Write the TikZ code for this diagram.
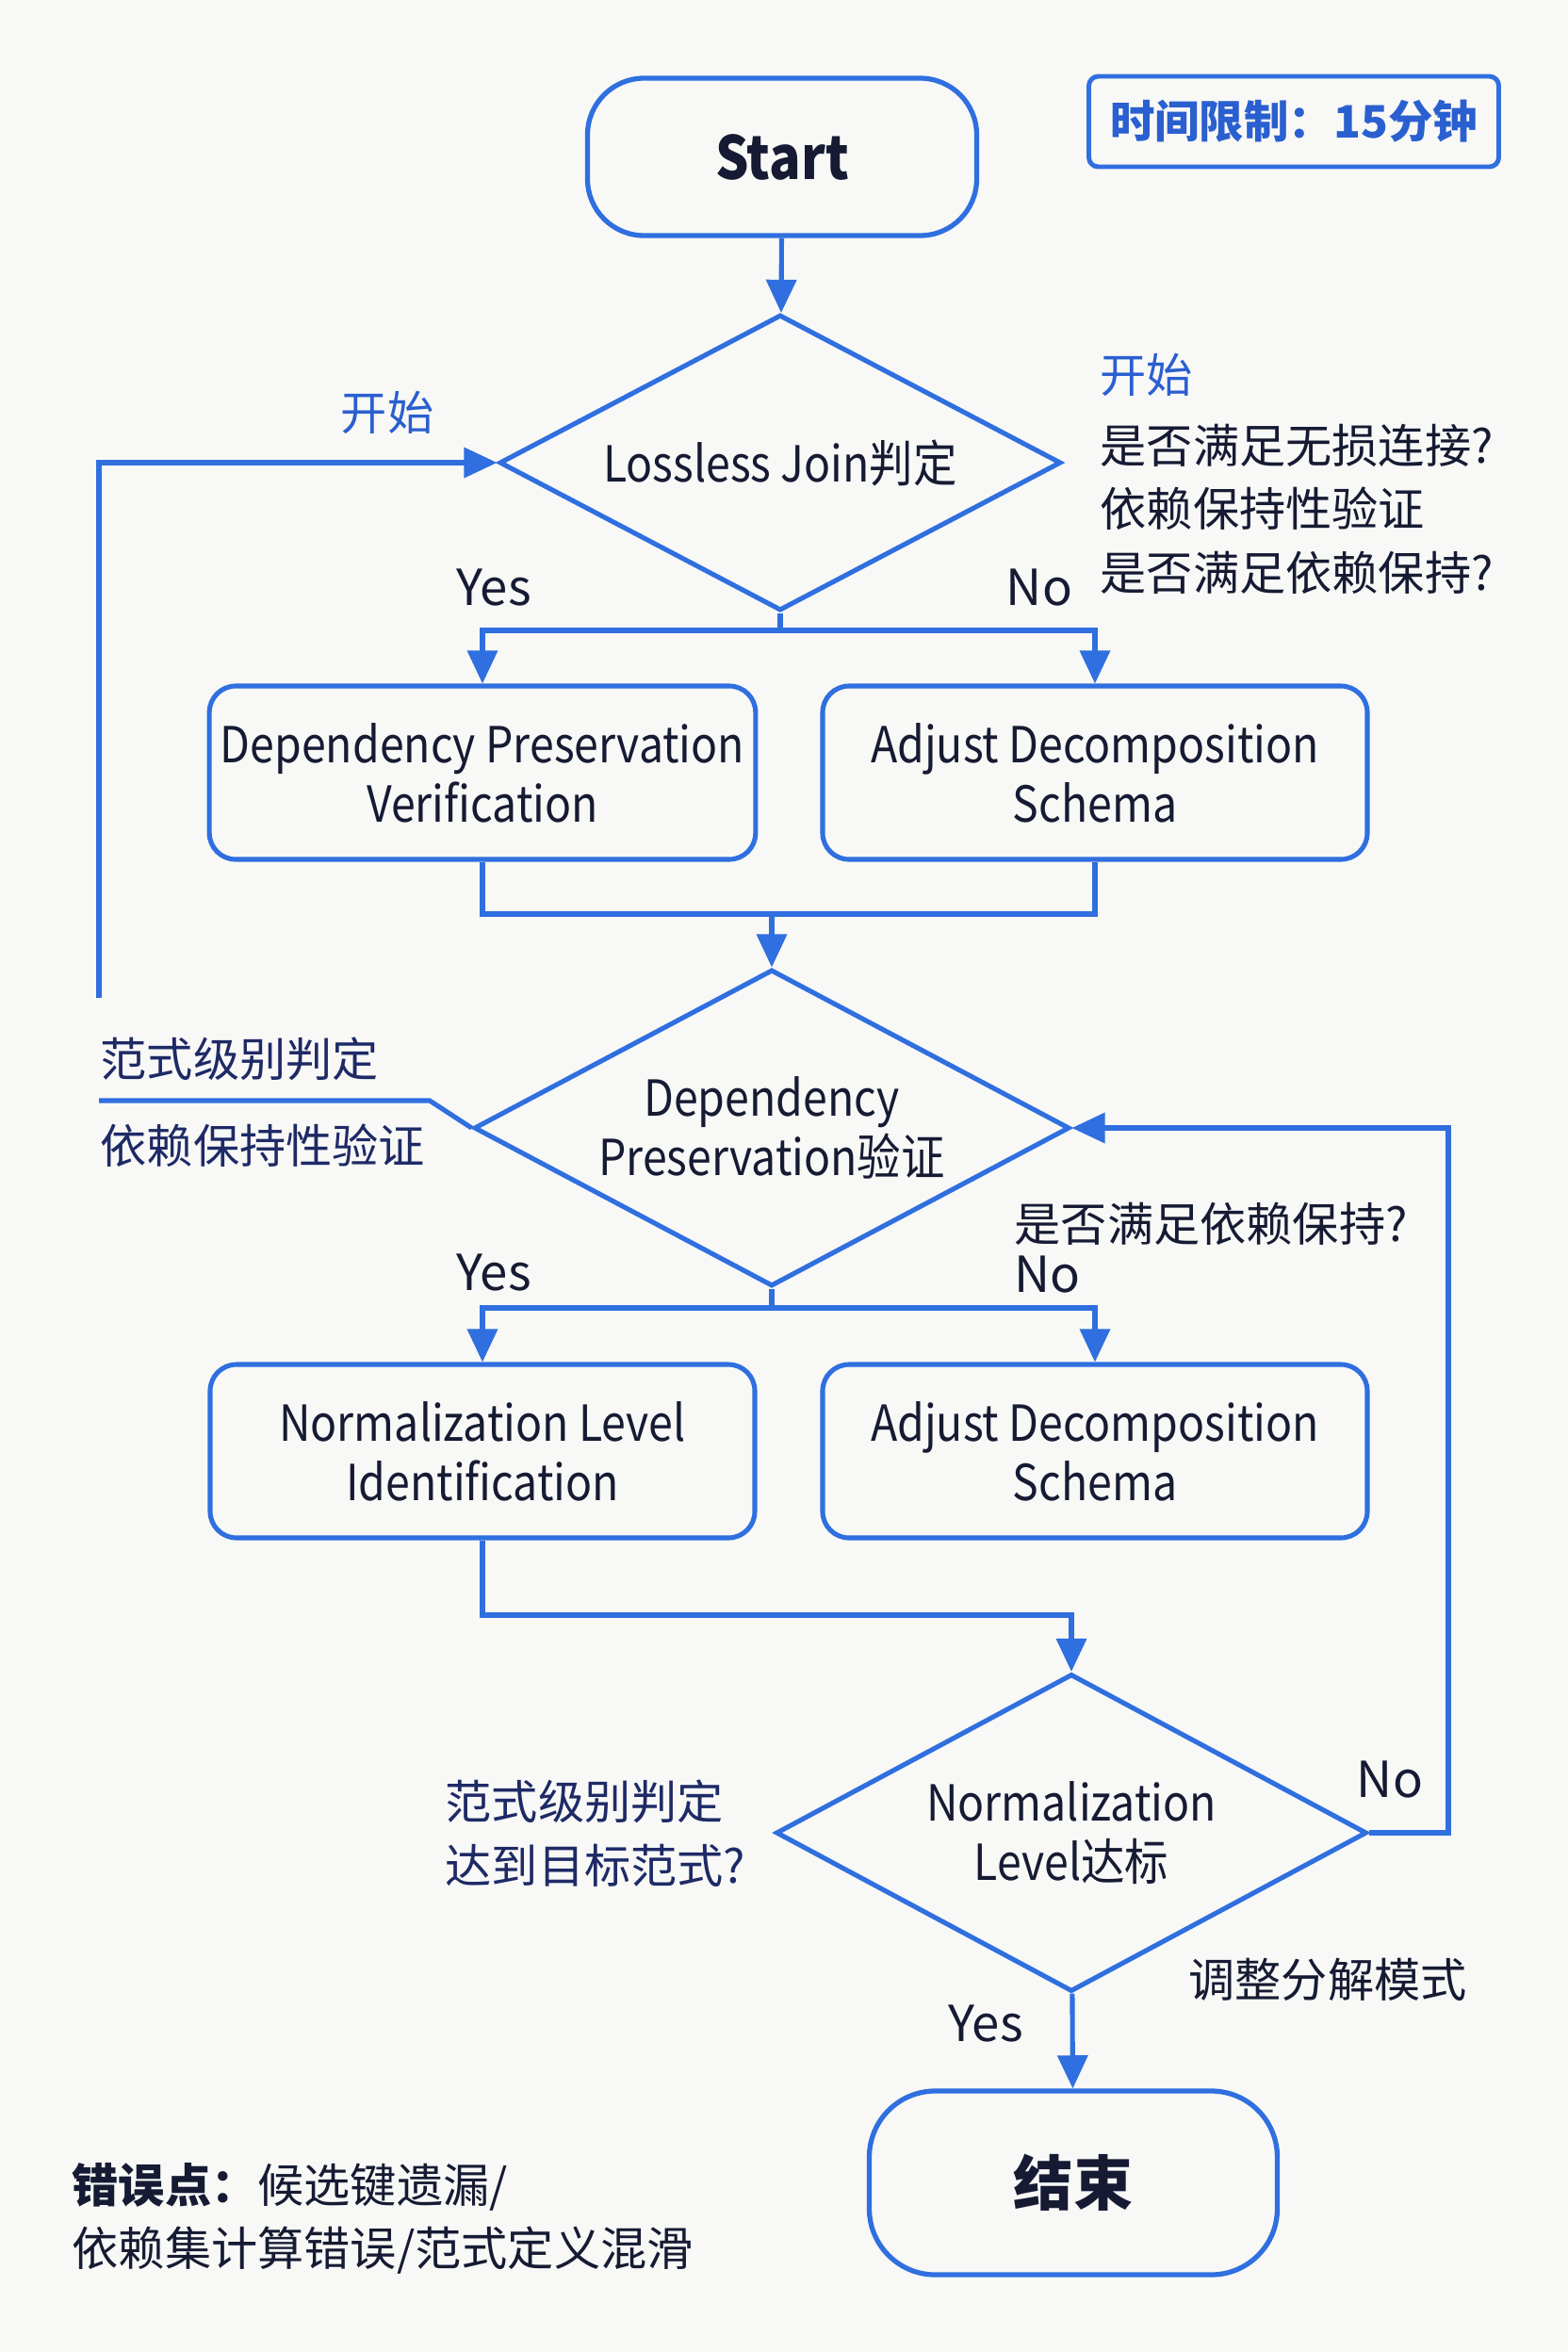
\documentclass[tikz,border=0pt]{standalone}
\usepackage{fontspec}
\setmainfont{Noto Sans CJK SC}
\newfontfamily\narrowfont{Noto Sans CJK SC}[FakeStretch=0.88]
\usetikzlibrary{shapes.geometric,arrows.meta,positioning}
\definecolor{lineblue}{HTML}{2F6FDF}
\definecolor{tagblue}{HTML}{2A5FD0}
\definecolor{inkdark}{HTML}{161B33}
\definecolor{navy}{HTML}{1E2A66}
\definecolor{paper}{HTML}{F8F8F6}

\begin{document}
\begin{tikzpicture}
    \tikzset{
        flow/.style={draw=lineblue,line width=1.45pt,-{Triangle[length=10pt,width=9pt]}},
        link/.style={draw=lineblue,line width=1.45pt},
        terminal/.style={draw=lineblue,line width=1.5pt,rounded corners=0.6cm,minimum width=4.13cm,minimum height=1.67cm,text=inkdark,font=\narrowfont\fontsize{18}{20}\selectfont\bfseries},
        process/.style={draw=lineblue,line width=1.45pt,rounded corners=0.28cm,minimum width=5.78cm,minimum height=1.84cm,align=center,text=inkdark,font=\narrowfont\fontsize{15}{18}\selectfont},
        decision/.style={draw=lineblue,line width=1.45pt,shape=diamond,aspect=1.9,inner sep=0pt,align=center,text=inkdark,font=\narrowfont\fontsize{15}{18}\selectfont},
        note/.style={text=inkdark,font=\fontsize{14}{19}\selectfont,inner sep=0pt},
        tag/.style={text=inkdark,font=\fontsize{15}{18}\selectfont,inner sep=0pt}
    }
    \fill[paper] (0,0) rectangle (16.64,-24.96);
    \useasboundingbox (0,0) rectangle (16.64,-24.96);

    \node[terminal] (start) at (8.30,-1.665) {Start};
    \node[draw=lineblue,line width=1.4pt,rounded corners=0.1cm,minimum width=4.35cm,minimum height=0.96cm,text=tagblue,font=\fontsize{13.5}{16}\selectfont\bfseries] (limit) at (13.73,-1.29) {时间限制：15分钟};
    \node[decision,minimum width=5.96cm,minimum height=3.14cm] (join) at (8.28,-4.91) {Lossless Join判定};
    \node[process] (verify) at (5.12,-8.20) {Dependency Preservation\\Verification};
    \node[process] (adjustA) at (11.62,-8.20) {Adjust Decomposition\\Schema};
    \node[decision,minimum width=6.32cm,minimum height=3.36cm] (depend) at (8.19,-11.97) {Dependency\\Preservation验证};
    \node[process] (level) at (5.12,-15.40) {Normalization Level\\Identification};
    \node[process] (adjustB) at (11.62,-15.40) {Adjust Decomposition\\Schema};
    \node[decision,minimum width=6.27cm,minimum height=3.37cm] (target) at (11.37,-19.45) {Normalization\\Level达标};
    \node[terminal,minimum width=4.33cm,minimum height=1.95cm,rounded corners=0.7cm,font=\fontsize{18}{20}\selectfont\bfseries] (finish) at (11.39,-23.165) {结束};

    \coordinate (fork1) at (8.28,-6.69);
    \coordinate (merge1) at (8.19,-9.70);
    \coordinate (loop) at (1.05,-10.59);
    \coordinate (bend) at (4.56,-11.68);
    \coordinate (tail) at (1.05,-11.68);
    \coordinate (fork2) at (8.19,-13.88);
    \coordinate (turn) at (5.12,-17.14);
    \coordinate (back) at (15.37,-19.45);

    \draw[flow] (start) -- (join);
    \draw[link] (join.south) -- (fork1);
    \draw[flow] (fork1) -| (verify.north);
    \draw[flow] (fork1) -| (adjustA.north);
    \draw[link] (verify.south) |- (merge1) -| (adjustA.south);
    \draw[flow] (merge1) -- (depend.north);
    \draw[flow] (loop) |- (join.west);
    \draw[link] (depend.west) -- (bend) -- (tail);
    \draw[link] (depend.south) -- (fork2);
    \draw[flow] (fork2) -| (level.north);
    \draw[flow] (fork2) -| (adjustB.north);
    \draw[flow] (level.south) -- (turn) -| (target.north);
    \draw[flow] (target.east) -- (back) |- (depend.east);
    \draw[flow] (target) -- (finish);

    \node[note,text=tagblue] (startL) at (4.11,-4.38) {开始};
    \node[note,text=tagblue,anchor=west] (startR) at (11.67,-3.98) {开始};
    \node[note,anchor=west] (askJoin) at (11.67,-4.73) {是否满足无损连接?};
    \node[note,anchor=west] (askCheck) at (11.67,-5.40) {依赖保持性验证};
    \node[note,anchor=west] (askKeep) at (11.67,-6.08) {是否满足依赖保持?};
    \node[tag] (yes1) at (5.24,-6.24) {Yes};
    \node[tag] (no1) at (11.03,-6.24) {No};

    \node[note,text=navy,anchor=west] (levelL) at (1.06,-11.24) {范式级别判定};
    \node[note,text=navy,anchor=west] (checkL) at (1.06,-12.16) {依赖保持性验证};
    \node[note,anchor=west] (askKeep2) at (10.76,-12.99) {是否满足依赖保持?};
    \node[tag,anchor=west] (no2) at (10.76,-13.52) {No};
    \node[tag] (yes2) at (5.24,-13.50) {Yes};

    \node[note,text=navy,anchor=west] (levelD) at (4.72,-19.12) {范式级别判定};
    \node[note,text=navy,anchor=west] (reachD) at (4.72,-19.80) {达到目标范式?};
    \node[tag] (no3) at (14.75,-18.88) {No};
    \node[note] (adjustD) at (14.09,-21.01) {调整分解模式};
    \node[tag] (yes3) at (10.46,-21.47) {Yes};

    \node[note,anchor=west] (errA) at (0.76,-23.21) {\textbf{错误点：}候选键遗漏/};
    \node[note,anchor=west] (errB) at (0.76,-23.88) {依赖集计算错误/范式定义混滑};
\end{tikzpicture}
\end{document}
